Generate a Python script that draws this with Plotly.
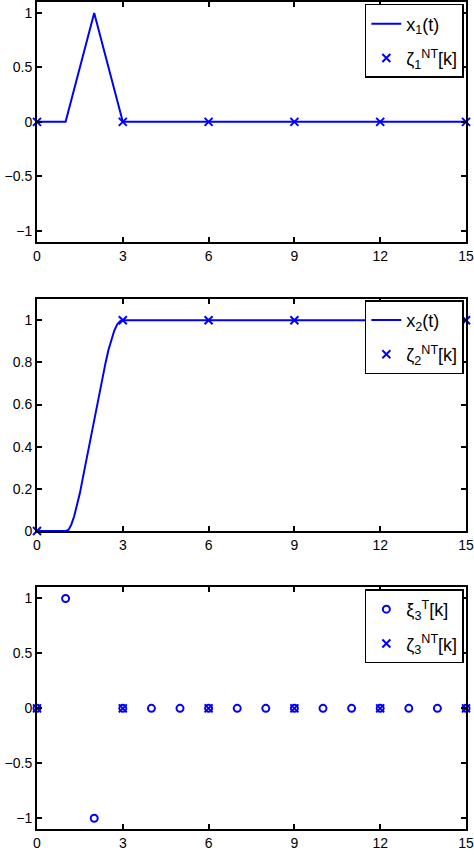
import plotly.graph_objects as go

BLUE = "#0000ff"

# Panel 1: x1(t) triangle and zeta1 NT samples
t1 = [0, 1, 2, 3, 15]
x1 = [0, 0, 1, 0, 0]
k_nt = [0, 3, 6, 9, 12, 15]
z1_nt = [0, 0, 0, 0, 0, 0]

# Panel 2: x2(t) smooth step and zeta2 NT samples
t2 = [0, 1.0, 1.1, 1.2, 1.3, 1.4, 1.5, 1.6, 1.7, 1.8, 1.9, 2.0,
      2.1, 2.2, 2.3, 2.4, 2.5, 2.6, 2.7, 2.8, 2.9, 3.0, 15]
x2 = [0, 0, 0.005, 0.03, 0.07, 0.12, 0.18, 0.25, 0.32, 0.39, 0.46, 0.53,
      0.60, 0.67, 0.74, 0.80, 0.86, 0.91, 0.95, 0.98, 0.995, 1.0, 1.0]
z2_nt = [0, 1, 1, 1, 1, 1]

# Panel 3: xi3 T samples and zeta3 NT samples
k_t = list(range(16))
xi3_t = [0, 1, -1, 0, 0, 0, 0, 0, 0, 0, 0, 0, 0, 0, 0, 0]
z3_nt = [0, 0, 0, 0, 0, 0]

xticks = [0, 3, 6, 9, 12, 15]

fig = go.Figure()

XM = dict(symbol="x-thin-open", size=8, line=dict(color=BLUE, width=2), color=BLUE)

fig.add_trace(go.Scatter(x=t1, y=x1, mode="lines", line=dict(color=BLUE, width=2),
                         name="x<sub>1</sub>(t)", xaxis="x", yaxis="y", legend="legend",
                         legendgroup="a", cliponaxis=False))
fig.add_trace(go.Scatter(x=k_nt, y=z1_nt, mode="markers", marker=XM,
                         name="ζ<sub>1</sub><sup>NT</sup>[k]", xaxis="x", yaxis="y", legend="legend",
                         legendgroup="b", cliponaxis=False))

fig.add_trace(go.Scatter(x=t2, y=x2, mode="lines", line=dict(color=BLUE, width=2),
                         name="x<sub>2</sub>(t)", xaxis="x2", yaxis="y2", legend="legend2",
                         legendgroup="c", cliponaxis=False))
fig.add_trace(go.Scatter(x=k_nt, y=z2_nt, mode="markers", marker=XM,
                         name="ζ<sub>2</sub><sup>NT</sup>[k]", xaxis="x2", yaxis="y2", legend="legend2",
                         legendgroup="d", cliponaxis=False))

fig.add_trace(go.Scatter(x=k_t, y=xi3_t, mode="markers",
                         marker=dict(symbol="circle-open", size=7, line=dict(color=BLUE, width=2), color=BLUE),
                         name="ξ<sub>3</sub><sup>T</sup>[k]", xaxis="x3", yaxis="y3", legend="legend3",
                         legendgroup="e", cliponaxis=False))
fig.add_trace(go.Scatter(x=k_nt, y=z3_nt, mode="markers", marker=XM,
                         name="ζ<sub>3</sub><sup>NT</sup>[k]", xaxis="x3", yaxis="y3", legend="legend3",
                         legendgroup="f", cliponaxis=False))

H = 860.0
def dom(top_px, bot_px):
    return [1 - bot_px / H, 1 - top_px / H]

axis_common = dict(showline=True, linecolor="black", linewidth=2, mirror="ticks",
                   ticks="inside", ticklen=5, tickwidth=1.5, tickcolor="black",
                   showgrid=False, zeroline=False, ticklabeloverflow="allow",
                   tickfont=dict(family="Liberation Sans, Arial, sans-serif", size=14, color="black"))

xax = dict(range=[0, 15], tickvals=xticks, ticktext=[str(v) for v in xticks], **axis_common)
ya13 = dict(range=[-1.1, 1.1], tickvals=[-1, -0.5, 0, 0.5, 1],
            ticktext=["\u22121", "\u22120.5", "0", "0.5", "1"], **axis_common)
ya2 = dict(range=[0, 1.1], tickvals=[0, 0.2, 0.4, 0.6, 0.8, 1],
           ticktext=["0", "0.2", "0.4", "0.6", "0.8", "1"], **axis_common)

leg_common = dict(xanchor="right", x=0.995, yanchor="top", bgcolor="white",
                  bordercolor="black", borderwidth=1.5,
                  font=dict(family="Liberation Sans, Arial, sans-serif", size=18, color="black"),
                  itemwidth=30, tracegroupgap=8)

fig.update_layout(
    width=474, height=860,
    margin=dict(l=37, r=6, t=0, b=0),
    paper_bgcolor="white", plot_bgcolor="white",
    xaxis=dict(domain=[0, 1], anchor="y", **xax),
    yaxis=dict(domain=dom(2, 244), anchor="x", **ya13),
    xaxis2=dict(domain=[0, 1], anchor="y2", **xax),
    yaxis2=dict(domain=dom(302, 536), anchor="x2", **ya2),
    xaxis3=dict(domain=[0, 1], anchor="y3", **xax),
    yaxis3=dict(domain=dom(593, 837), anchor="x3", **ya13),
    legend=dict(y=1 - 4 / H, **leg_common),
    legend2=dict(y=1 - 303 / H, **leg_common),
    legend3=dict(y=1 - 595 / H, **leg_common),
    showlegend=True,
)

fig.write_html("out.html")
